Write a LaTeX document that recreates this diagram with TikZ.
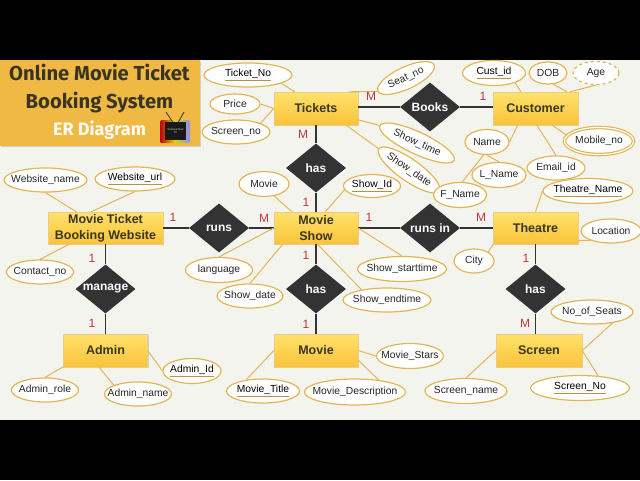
\documentclass[tikz,border=0pt]{standalone}
\usepackage{fontspec}
\setmainfont{Liberation Sans}
\newfontfamily\titlefont{Fira Sans}
\usetikzlibrary{calc,shapes.geometric,shadows}
\definecolor{erPaper}{HTML}{F4F4EF}
\definecolor{erBanner}{HTML}{EFB944}
\definecolor{erInk}{HTML}{3A3522}
\definecolor{erGold}{HTML}{E3B654}
\definecolor{erDark}{HTML}{333333}
\definecolor{erTop}{HTML}{FFE26C}
\definecolor{erBottom}{HTML}{F9C33A}
\definecolor{erRed}{HTML}{C4343C}
\newcommand{\erkey}[1]{\textcolor{erGold!80!black}{$\underline{\hbox{\textcolor{black}{#1}}}$}}
\tikzset{
  erentity/.style={
    rectangle, top color=erTop, bottom color=erBottom, draw=erGold!70,
    drop shadow={shadow xshift=1pt, shadow yshift=-1.2pt, opacity=0.3},
    minimum height=33pt, align=center, inner sep=0pt,
    font=\bfseries\fontsize{12.5}{16}\selectfont, text=erInk
  },
  errel/.style={
    diamond, aspect=1.22, fill=erDark, minimum width=60pt, minimum height=49pt,
    inner sep=0pt, font=\bfseries\fontsize{12}{14}\selectfont, text=white
  },
  erattr/.style={
    ellipse, draw=erGold, line width=1.2pt, fill=white,
    inner xsep=-14pt, inner ysep=-4pt,
    minimum height=24pt, font=\fontsize{10.3}{12}\selectfont, text=black!85
  },
  erlink/.style={draw=erGold, line width=1pt},
  errole/.style={draw=erDark, line width=1.8pt},
  ercard/.style={font=\fontsize{12}{14}\selectfont, text=erRed, inner sep=0pt},
  ertitle/.style={font=\titlefont\bfseries\fontsize{20.2}{24}\selectfont, text=erInk, inner sep=0pt}
}
\begin{document}
\begin{tikzpicture}[x=1pt,y=-1pt]
  \useasboundingbox (0,0) rectangle (640,480);
  \fill[erPaper] (0,0) rectangle (640,480);
  \fill[black] (0,0) rectangle (640,60);
  \fill[black] (0,420) rectangle (640,480);

  % banner
  \node[rectangle, fill=erBanner, minimum width=200pt, minimum height=86pt, inner sep=0pt,
    drop shadow={shadow xshift=1pt, shadow yshift=-1.2pt, opacity=0.3}] (banner) at (100,103) {};
  \node[ertitle] (title1) at (99.5,72) {Online Movie Ticket};
  \node[ertitle] (title2) at (99.5,103) {Booking System};
  \node[ertitle, text=white!95!erBanner, font=\titlefont\bfseries\fontsize{18}{20}\selectfont] (title3) at (99.5,130.5) {ER Diagram};

  % logo
  \shade[left color=red!75!black, right color=blue!45!white, middle color=yellow!85!black, rounded corners=1.5pt] (160,120) rectangle (190,143);
  \node[rectangle, fill=black!90, minimum width=21pt, minimum height=18pt, inner sep=0pt, align=center,
    text=white, font=\fontsize{2.4}{3}\selectfont] (logo) at (175.5,131) {Technical Tools\\TV};
  \coordinate (aerialL) at (166,112);
  \coordinate (aerialR) at (184,112);
  \draw[erInk, line width=0.8pt] (logo.north) ++(-3,-0) -- (aerialL);
  \draw[erInk, line width=0.8pt] (logo.north) ++(3,0) -- (aerialR);

  % entities
  \node[erentity, minimum width=84pt] (tickets) at (316,108.5) {Tickets};
  \node[erentity, minimum width=85pt] (customer) at (535.5,108.5) {Customer};
  \node[erentity, minimum width=115pt, minimum height=32pt] (website) at (105.5,228) {Movie Ticket\\Booking Website};
  \node[erentity, minimum width=84pt, minimum height=32pt] (mshow) at (316,228) {Movie\\Show};
  \node[erentity, minimum width=85pt, minimum height=32pt] (theatre) at (535.5,228) {Theatre};
  \node[erentity, minimum width=84pt] (admin) at (105.5,350.5) {Admin};
  \node[erentity, minimum width=84pt] (movie) at (316,350.5) {Movie};
  \node[erentity, minimum width=86pt] (screen) at (539,350.5) {Screen};

  % relations
  \node[errel] (books) at (430,107) {Books};
  \node[errel] (hasShow) at (316,168) {has};
  \node[errel] (runs) at (219,228) {runs};
  \node[errel] (runsin) at (430,228) {runs in};
  \node[errel] (manage) at (105.5,289) {manage};
  \node[errel] (hasMovie) at (316,289) {has};
  \node[errel] (hasScreen) at (535.5,289) {has};

  \draw[errole] (tickets.east |- books) -- (books.west);
  \draw[errole] (books.east) -- (customer.west |- books);
  \draw[errole] (tickets.south) -- (hasShow.north);
  \draw[errole] (hasShow.south) -- (mshow.north);
  \draw[errole] (website.east) -- (runs.west);
  \draw[errole] (runs.east) -- (mshow.west);
  \draw[errole] (mshow.east) -- (runsin.west);
  \draw[errole] (runsin.east) -- (theatre.west);
  \draw[errole] (website.south) -- (manage.north);
  \draw[errole] (manage.south) -- (admin.north);
  \draw[errole] (mshow.south) -- (hasMovie.north);
  \draw[errole] (hasMovie.south) -- (movie.north);
  \draw[errole] (theatre.south) -- (hasScreen.north);
  \draw[errole] (hasScreen.south) -- (hasScreen.south |- screen.north);

  % attributes
  \node[erattr, minimum width=88pt] (ticketNo) at (248,75) {\erkey{Ticket\_No}};
  \node[erattr, minimum width=50pt, minimum height=20pt] (price) at (235,104) {Price};
  \node[erattr, minimum width=68pt] (screenNo) at (236,132) {Screen\_no};
  \node[erattr, minimum width=83pt] (webName) at (45.5,180) {Website\_name};
  \node[erattr, minimum width=80pt] (webUrl) at (135,179) {\erkey{Website\_url}};
  \node[erattr, minimum width=50pt, minimum height=25pt] (showMovie) at (264,184) {Movie};
  \node[erattr, minimum width=62pt, minimum height=22pt, rotate=25] (seatNo) at (406,78) {Seat\_no};
  \node[erattr, minimum width=63pt, minimum height=25pt] (custId) at (494,73) {\erkey{Cust\_id}};
  \node[erattr, minimum width=38pt, minimum height=22pt] (dob) at (548,73) {DOB};
  \node[erattr, minimum width=46pt, minimum height=23pt, dashed] (age) at (596,73) {Age};
  \node[erattr, minimum width=82pt, minimum height=22pt, rotate=-25] (showTime) at (417,143) {Show\_time};
  \node[erattr, minimum width=74pt, minimum height=22pt, rotate=-35] (showDate) at (409,170) {Show\_date};
  \node[erattr, minimum width=44pt, minimum height=25pt] (custName) at (487,142) {Name};
  \node[erattr, minimum width=54pt, minimum height=25pt] (lName) at (499,175) {L\_Name};
  \node[erattr, minimum width=53pt, minimum height=25pt] (fName) at (460,195) {F\_Name};
  \node[erattr, minimum width=58pt] (email) at (556,168) {Email\_id};
  \node[erattr, minimum width=69pt, minimum height=27pt, double=white, double distance=1.2pt] (mobile) at (599,141) {Mobile\_no};
  \node[erattr, minimum width=57pt, minimum height=23pt] (showId) at (372,186) {\erkey{Show\_Id}};
  \node[erattr, minimum width=90pt, minimum height=25pt] (theatreName) at (588,191) {\erkey{Theatre\_Name}};
  \node[erattr, minimum width=60pt] (location) at (611,231) {Location};
  \node[erattr, minimum width=67pt] (contact) at (40,272) {Contact\_no};
  \node[erattr, minimum width=67pt, minimum height=25pt] (language) at (219,270) {language};
  \node[erattr, minimum width=66pt] (showDateB) at (250,296) {Show\_date};
  \node[erattr, minimum width=89pt, minimum height=25pt] (showStart) at (402,269) {Show\_starttime};
  \node[erattr, minimum width=88pt] (showEnd) at (387,300) {Show\_endtime};
  \node[erattr, minimum width=40pt] (city) at (474,261) {City};
  \node[erattr, minimum width=82pt] (seats) at (592,312) {No\_of\_Seats};
  \node[erattr, minimum width=67pt, minimum height=25pt] (stars) at (410,356) {Movie\_Stars};
  \node[erattr, minimum width=99pt, minimum height=25pt] (screenKey) at (580,388) {\erkey{Screen\_No}};
  \node[erattr, minimum width=82pt, minimum height=25pt] (screenName) at (466,391) {Screen\_name};
  \node[erattr, minimum width=101pt, minimum height=26pt] (movieDesc) at (355,392) {Movie\_Description};
  \node[erattr, minimum width=73pt] (movieTitle) at (263,391) {\erkey{Movie\_Title}};
  \node[erattr, minimum width=58pt, minimum height=25pt] (adminId) at (192,371) {\erkey{Admin\_Id}};
  \node[erattr, minimum width=67pt] (adminName) at (138,394) {Admin\_name};
  \node[erattr, minimum width=67pt] (adminRole) at (45,390) {Admin\_role};

  \draw[erlink] (ticketNo.-14) -- (tickets.142);
  \draw[erlink] (price.east) -- (tickets.west);
  \draw[erlink] (screenNo.20) -- (tickets.west);
  \draw[erlink] (seatNo.west) -- (tickets.27);
  \draw[erlink] (showTime.west) -- (tickets.-15);
  \draw[erlink] (showDate.west) -- (tickets.-29);
  \draw[erlink] (custId.-25) -- (customer.131);
  \draw[erlink] (dob.-65) -- (customer.28);
  \draw[erlink] (age.south) -- (customer.26);
  \draw[erlink] (custName.east) -- (customer.223);
  \draw[erlink] (email.north) -- (customer.-85);
  \draw[erlink] (mobile.170) -- (customer.-45);
  \draw[erlink] (custName.south) -- (lName.north);
  \draw[erlink] (custName.-105) -- (fName.80);
  \draw[erlink] (webName.south) -- (website.151);
  \draw[erlink] (webUrl.south) -- (website.132);
  \draw[erlink] (contact.north) -- (website.204);
  \draw[erlink] (showMovie.-50) -- (mshow.146);
  \draw[erlink] (showId.188) -- (mshow.60);
  \draw[erlink] (language.north) -- (mshow.west);
  \draw[erlink] (showDateB.north) -- (mshow.206);
  \draw[erlink] (showStart.north) -- (mshow.east);
  \draw[erlink] (showEnd.158) -- (mshow.-85);
  \draw[erlink] (theatreName.west) -- (theatre.north);
  \draw[erlink] (location.-155) -- (theatre.-16);
  \draw[erlink] (city.33) -- (theatre.201);
  \draw[erlink] (seats.-28) -- (screen.east);
  \draw[erlink] (screenKey.34) -- (screen.east);
  \draw[erlink] (screenName.north) -- (screen.west);
  \draw[erlink] (stars.west) -- (movie.east);
  \draw[erlink] (movieDesc.27) -- (movie.-13);
  \draw[erlink] (movieTitle.146) -- (movie.west);
  \draw[erlink] (adminId.west) -- (admin.east);
  \draw[erlink] (adminName.160) -- (admin.249);
  \draw[erlink] (adminRole.north) -- (admin.201);

  % cardinalities
  \node[ercard] (cardTicketsM) at (371,96) {M};
  \node[ercard] (cardCustomer) at (483,96) {1};
  \node[ercard] (cardTicketsHas) at (303,134) {M};
  \node[ercard] (cardShowHas) at (306,202) {1};
  \node[ercard] (cardWebsite) at (173,217) {1};
  \node[ercard] (cardShowRuns) at (264,218) {M};
  \node[ercard] (cardShowIn) at (369,217) {1};
  \node[ercard] (cardTheatreIn) at (481,217) {M};
  \node[ercard] (cardWebsiteAdmin) at (92,258) {1};
  \node[ercard] (cardAdmin) at (92,323) {1};
  \node[ercard] (cardShowMovie) at (306,255) {1};
  \node[ercard] (cardMovie) at (306,324) {1};
  \node[ercard] (cardTheatre) at (526,258) {1};
  \node[ercard] (cardScreen) at (525,323) {M};
\end{tikzpicture}
\end{document}
